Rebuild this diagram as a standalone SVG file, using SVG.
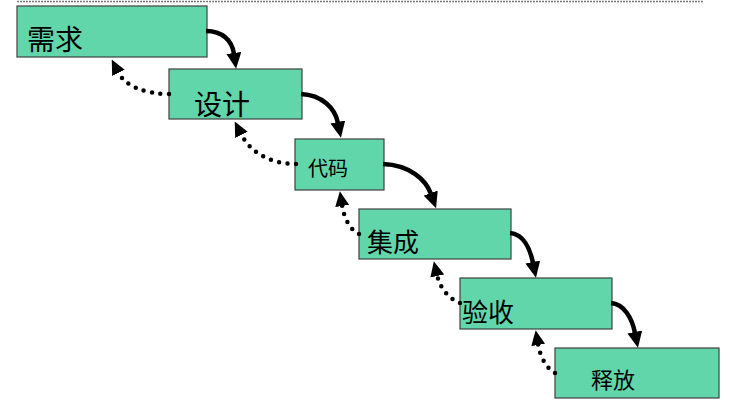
<svg xmlns="http://www.w3.org/2000/svg" width="730" height="417" viewBox="0 0 730 417">
  <style>
    .box { fill: #60D6AA; stroke: #404040; stroke-width: 1.2; }
    .lbl { font-family: "Noto Sans CJK SC", "Noto Sans", sans-serif; fill: #000; }
    .fwd { fill: none; stroke: #000; stroke-width: 4.5; marker-end: url(#headSolid); }
    .back { fill: none; stroke: #000; stroke-width: 4.5; stroke-linecap: round; stroke-dasharray: 0 8.5; marker-end: url(#headDot); }
  </style>
  <defs>
    <marker id="headSolid" markerUnits="userSpaceOnUse" viewBox="0 0 16 15" markerWidth="16" markerHeight="15" refX="1" refY="7.5" orient="auto">
      <path d="M0,0 L16,7.5 L0,15 Z" fill="#000"/>
    </marker>
    <marker id="headDot" markerUnits="userSpaceOnUse" viewBox="0 0 15 14" markerWidth="15" markerHeight="14" refX="1" refY="7" orient="auto">
      <path d="M0,0 L15,7 L0,14 Z" fill="#000"/>
    </marker>
  </defs>

  <line x1="17" y1="1.5" x2="703" y2="1.5" stroke="#777" stroke-width="1.3" stroke-dasharray="2 1"/>

  <g id="node-xuqiu">
    <rect class="box" x="17" y="6" width="190" height="51"/>
    <text class="lbl" x="27" y="50" font-size="28">需求</text>
  </g>
  <g id="node-sheji">
    <rect class="box" x="169" y="69" width="133" height="50"/>
    <text class="lbl" x="194" y="115" font-size="28">设计</text>
  </g>
  <g id="node-daima">
    <rect class="box" x="295" y="139" width="89" height="51"/>
    <text class="lbl" x="308" y="175.5" font-size="20">代码</text>
  </g>
  <g id="node-jicheng">
    <rect class="box" x="359" y="209" width="152" height="50"/>
    <text class="lbl" x="367" y="252" font-size="26">集成</text>
  </g>
  <g id="node-yanshou">
    <rect class="box" x="460" y="278" width="152" height="51"/>
    <text class="lbl" x="462" y="322" font-size="26">验收</text>
  </g>
  <g id="node-shifang">
    <rect class="box" x="555" y="348" width="164" height="50"/>
    <text class="lbl" x="591" y="388" font-size="22">释放</text>
  </g>

  <g id="connectors">
    <path class="fwd" d="M206,31 C222,31 232,40 234,54"/>
    <path class="fwd" d="M301,94 C322,95 335,108 338,123"/>
    <path class="fwd" d="M383,164 C410,165 426,180 431,194"/>
    <path class="fwd" d="M510,233 C523,234 530,248 533,263"/>
    <path class="fwd" d="M611,303 C624,304 632,318 635,333"/>

    <path class="back" d="M169,94 C145,94 125,86 118,72"/>
    <path class="back" d="M296,164 C270,164 250,152 241,134"/>
    <path class="back" d="M359,234 C350,230 344,218 342,205"/>
    <path class="back" d="M460,303 C448,298 440,288 437,275"/>
    <path class="back" d="M555,373 C546,368 540,356 538,344"/>
  </g>
</svg>
